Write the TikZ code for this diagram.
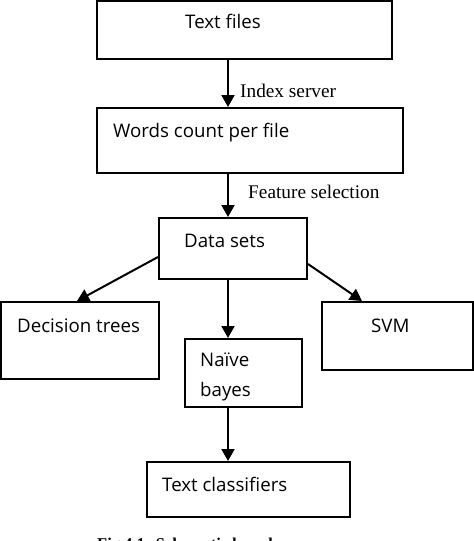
\documentclass[tikz,border=0pt]{standalone}
\usepackage{fontspec}
\setmainfont{Liberation Serif}
\newfontfamily\boxfont{Open Sans}
\usetikzlibrary{arrows.meta}
\begin{document}
\begin{tikzpicture}[x=1pt,y=-1pt,
  box/.style={draw, line width=2pt, inner sep=0pt},
  lbl/.style={font=\boxfont\fontsize{18.7}{22}\selectfont, anchor=base west, inner sep=0pt},
  elbl/.style={font=\fontsize{19.3}{22}\selectfont, anchor=base west, inner sep=0pt},
  arr/.style={line width=2pt, -{Triangle[length=12pt,width=13pt]}}]
\useasboundingbox (0,0) rectangle (474,541);
\fill[white] (0,0) rectangle (474,541);
% boxes
\node[box, minimum width=295pt, minimum height=58pt] (tf) at (244.5,30) {};
\node[box, minimum width=306pt, minimum height=65pt] (wc) at (250,140.5) {};
\node[box, minimum width=148pt, minimum height=61pt] (ds) at (233,248.5) {};
\node[box, minimum width=158pt, minimum height=77pt] (dt) at (80,340.5) {};
\node[box, minimum width=151pt, minimum height=68pt] (svm) at (397.5,336) {};
\node[box, minimum width=117pt, minimum height=68pt] (nb) at (243.5,373) {};
\node[box, minimum width=203pt, minimum height=55pt] (tc) at (248.5,489.5) {};
% texts
\node[lbl] (tft) at (185,28.3) {Text files};
\node[lbl] (wct) at (113,137) {Words count per file};
\node[lbl] (dst) at (184,247) {Data sets};
\node[lbl] (dtt) at (17,332) {Decision trees};
\node[lbl] (svmt) at (371,332) {SVM};
\node[lbl] (nbt1) at (200,366) {Naïve};
\node[lbl] (nbt2) at (200,396) {bayes};
\node[lbl] (tct) at (162,491) {Text classifiers};
% arrows
\coordinate (ax) at (228,0);
\draw[arr] (tf.south -| ax) -- (wc.north -| ax);
\draw[arr] (wc.south -| ax) -- (ds.north -| ax);
\draw[arr] (ds.south -| ax) -- (nb.north -| ax);
\draw[arr] (nb.south -| ax) -- (tc.north -| ax);
\draw[arr] ([yshift=-8.5pt]ds.west) -- ([xshift=-3pt]dt.north);
\draw[arr] ([yshift=-15.5pt]ds.east) -- ([xshift=-35.5pt]svm.north);
% edge labels
\node[elbl] (is) at (240,97) {Index server};
\node[elbl] (fs) at (248,198) {Feature selection};
% caption (cut off at the lower edge, as in the reference)
\node[font=\bfseries\fontsize{16.5}{19}\selectfont, anchor=base west, inner sep=0pt] (cap) at (97,549) {Fig 4.1: Schematic based};
\end{tikzpicture}
\end{document}
